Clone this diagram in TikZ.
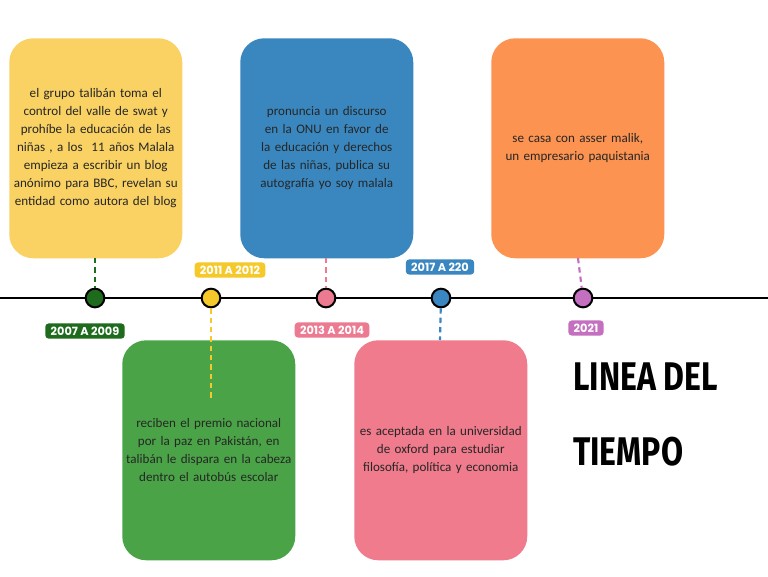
\documentclass[tikz,border=0pt]{standalone}
\usepackage{fontspec}
\setmainfont{Carlito}
\newfontfamily\tagfont{Poppins}
\newfontfamily\titlefont{Fira Sans}
\definecolor{cgreen}{HTML}{1E6B1E}
\definecolor{cyel}{HTML}{F5C92A}
\definecolor{cpink}{HTML}{EC7A90}
\definecolor{cblue}{HTML}{3A86C0}
\definecolor{cpurp}{HTML}{C46FC0}
\definecolor{byel}{HTML}{F9D263}
\definecolor{bgreen}{HTML}{4AA447}
\definecolor{bblue}{HTML}{3A87BF}
\definecolor{bpink}{HTML}{EF7B8D}
\definecolor{borange}{HTML}{FD9350}
\begin{document}
\begin{tikzpicture}[x=0.75pt,y=-0.75pt,
  card/.style={rounded corners=18pt,minimum width=129.75pt,minimum height=165pt,inner sep=0pt,anchor=north west,align=center,text width=128pt,font=\fontsize{9.8}{13.5}\selectfont,text=black!85},
  dot/.style={circle,draw=black,line width=1.5pt,minimum size=14pt,inner sep=0pt},
  tagbox/.style={rounded corners=2.5pt,text=white,font=\tagfont\bfseries\fontsize{8.5}{10}\selectfont,inner xsep=4pt,inner ysep=2.5pt},
  conn/.style={dashed,line width=1.6pt,dash pattern=on 4pt off 3pt}]
\useasboundingbox (0,0) rectangle (768,576);
\fill[white] (0,0) rectangle (768,576);
% boxes
\node[card,fill=byel] (b1) at (9,38) {el grupo talibán toma el control del valle de swat y prohíbe la educación de las niñas , a los \ 11 años Malala empieza a escribir un blog anónimo para BBC, revelan su entidad como autora del blog};
\node[card,fill=bgreen] (b2) at (122,340) {reciben el premio nacional por la paz en Pakistán, en talibán le dispara en la cabeza dentro el autobús escolar};
\node[card,fill=bblue] (b3) at (240,38) {pronuncia un discurso en la ONU en favor de la educación y derechos de las niñas, publica su autografía yo soy malala};
\node[card,fill=bpink] (b4) at (354,340) {es aceptada en la universidad de oxford para estudiar filosofía, política y economia};
\node[card,fill=borange] (b5) at (491,38) {se casa con asser malik, un empresario paquistania};
% timeline
\coordinate (l0) at (0,298); \coordinate (l1) at (768,298);
\draw[line width=2.2pt] (l0) -- (l1);
\node[dot,fill=cgreen] (d1) at (95,298) {};
\node[dot,fill=cyel] (d2) at (211,298) {};
\node[dot,fill=cpink] (d3) at (326,298) {};
\node[dot,fill=cblue] (d4) at (441,298) {};
\node[dot,fill=cpurp] (d5) at (583,298) {};
% connectors
\coordinate (e2) at (211,398);
\draw[conn,cgreen] (95,258) -- (d1);
\draw[conn,cyel] (d2) -- (e2);
\draw[conn,cpink] (326,258) -- (d3);
\draw[conn,cblue] (d4) -- (440,340);
\draw[conn,cpurp] (578,258) -- (d5);
% tags
\node[tagbox,fill=cgreen] (t1) at (85,331) {2007 A 2009};
\node[tagbox,fill=cyel] (t2) at (230,270) {2011 A 2012};
\node[tagbox,fill=cpink] (t3) at (332,330) {2013 A 2014};
\node[tagbox,fill=cblue] (t4) at (440,267) {2017 A 220};
\node[tagbox,fill=cpurp] (t5) at (586,328) {2021};
% title
\node[anchor=west,font=\titlefont\bfseries\fontsize{30}{30}\selectfont,xscale=0.8,inner sep=0pt] (ti1) at (573,377) {LINEA DEL};
\node[anchor=west,font=\titlefont\bfseries\fontsize{30}{30}\selectfont,xscale=0.8,inner sep=0pt] (ti2) at (573,452) {TIEMPO};
\end{tikzpicture}
\end{document}
